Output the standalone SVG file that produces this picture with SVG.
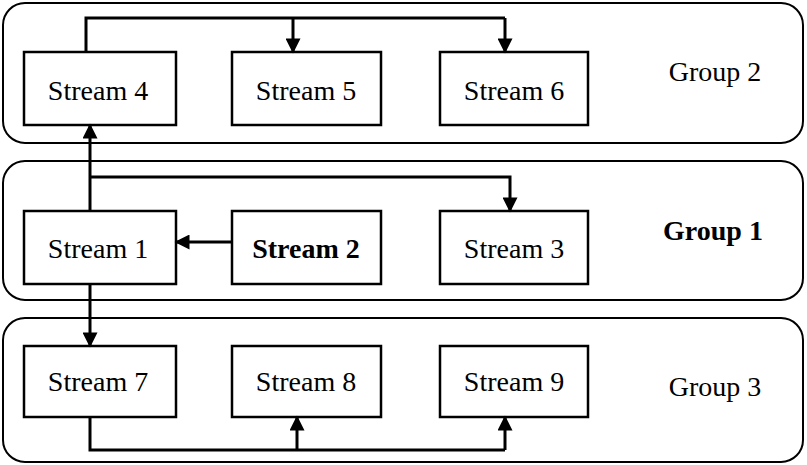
<svg xmlns="http://www.w3.org/2000/svg" width="807" height="465" viewBox="0 0 807 465">
<style>
.g{fill:#fff;stroke:#000;stroke-width:2}
.b{fill:#fff;stroke:#000;stroke-width:2.5}
.t{font-family:"Liberation Serif",serif;font-size:28px;text-anchor:middle;dominant-baseline:central}
.c{fill:none;stroke:#000;stroke-width:3}
</style>
<defs><marker id="a" viewBox="0 0 10 10" refX="9" refY="5" markerWidth="6" markerHeight="5" orient="auto" markerUnits="strokeWidth"><path d="M0,0L10,5L0,10z"/></marker></defs>
<g id="group2"><rect class="g" x="3" y="3" width="800" height="140" rx="22"/><text class="t" x="715" y="71">Group 2</text></g>
<g id="group1"><rect class="g" x="3" y="161" width="800" height="139" rx="22"/><text class="t" x="713" y="230" font-weight="bold">Group 1</text></g>
<g id="group3"><rect class="g" x="3" y="318" width="800" height="144" rx="22"/><text class="t" x="715" y="386">Group 3</text></g>
<g id="s4"><rect class="b" x="24" y="52" width="152" height="73"/><text class="t" x="98" y="90">Stream 4</text></g>
<g id="s5"><rect class="b" x="232" y="52" width="149" height="73"/><text class="t" x="306" y="90">Stream 5</text></g>
<g id="s6"><rect class="b" x="440" y="52" width="148" height="73"/><text class="t" x="514" y="90">Stream 6</text></g>
<g id="s1"><rect class="b" x="24" y="211" width="152" height="73"/><text class="t" x="98" y="248">Stream 1</text></g>
<g id="s2"><rect class="b" x="232" y="211" width="149" height="73"/><text class="t" x="306" y="248" font-weight="bold">Stream 2</text></g>
<g id="s3"><rect class="b" x="440" y="211" width="148" height="73"/><text class="t" x="514" y="248">Stream 3</text></g>
<g id="s7"><rect class="b" x="24" y="346" width="152" height="71"/><text class="t" x="98" y="381">Stream 7</text></g>
<g id="s8"><rect class="b" x="232" y="346" width="149" height="71"/><text class="t" x="306" y="381">Stream 8</text></g>
<g id="s9"><rect class="b" x="440" y="346" width="148" height="71"/><text class="t" x="514" y="381">Stream 9</text></g>
<g id="connectors">
<path class="c" d="M86,52V18H505"/>
<path class="c" d="M293,18V52" marker-end="url(#a)"/>
<path class="c" d="M505,18V52" marker-end="url(#a)"/>
<path class="c" d="M90,211V125" marker-end="url(#a)"/>
<path class="c" d="M90,177H510V211" marker-end="url(#a)"/>
<path class="c" d="M232,242H176" marker-end="url(#a)"/>
<path class="c" d="M90,284V346" marker-end="url(#a)"/>
<path class="c" d="M90,417V450H505"/>
<path class="c" d="M297,450V417" marker-end="url(#a)"/>
<path class="c" d="M505,450V417" marker-end="url(#a)"/>
</g>
</svg>
